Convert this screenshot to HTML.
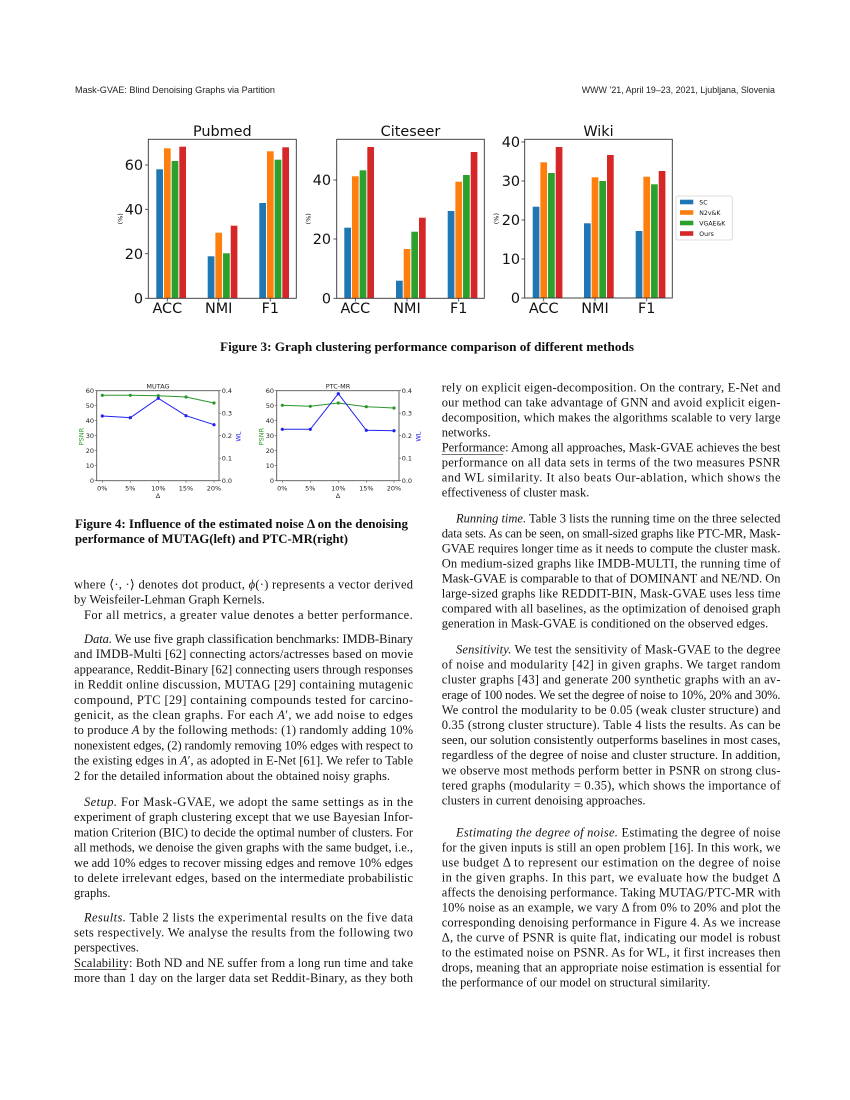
<!DOCTYPE html>
<html><head><meta charset="utf-8">
<style>
body{margin:0;background:#fff}
svg{display:block}
.b{font-family:"Liberation Serif","DejaVu Serif",serif;font-size:12.5px;fill:#141414}
.cap{font-family:"Liberation Serif","DejaVu Serif",serif;font-weight:bold;fill:#111}
.hd{font-family:"Liberation Sans","DejaVu Sans",sans-serif;font-size:9.5px;fill:#222}
.m{font-family:"DejaVu Sans","Liberation Sans",sans-serif;fill:#111}
.s{font-family:"DejaVu Sans","Liberation Sans",sans-serif;font-size:6.5px;fill:#222}
</style></head><body>
<svg width="850" height="1100" viewBox="0 0 850 1100" xmlns="http://www.w3.org/2000/svg">
<rect width="850" height="1100" fill="#fff"/>

<!-- header -->
<text class="hd" x="75" y="93" textLength="200" lengthAdjust="spacingAndGlyphs">Mask-GVAE: Blind Denoising Graphs via Partition</text>
<text class="hd" x="581.7" y="93" textLength="193.3" lengthAdjust="spacingAndGlyphs">WWW ’21, April 19–23, 2021, Ljubljana, Slovenia</text>

<!-- ===== Pubmed ===== -->
<g>
<rect x="156.3" y="169.3" width="6.7" height="129" fill="#1f77b4"/>
<rect x="163.97" y="148.3" width="6.7" height="150" fill="#ff7f0e"/>
<rect x="171.64" y="161" width="6.7" height="137.3" fill="#2ca02c"/>
<rect x="179.31" y="146.7" width="6.7" height="151.6" fill="#d62728"/>
<rect x="207.7" y="256.3" width="6.7" height="42" fill="#1f77b4"/>
<rect x="215.37" y="232.7" width="6.7" height="65.6" fill="#ff7f0e"/>
<rect x="223.04" y="253.3" width="6.7" height="45" fill="#2ca02c"/>
<rect x="230.71" y="225.7" width="6.7" height="72.6" fill="#d62728"/>
<rect x="259.3" y="203" width="6.7" height="95.3" fill="#1f77b4"/>
<rect x="266.97" y="151.3" width="6.7" height="147" fill="#ff7f0e"/>
<rect x="274.64" y="159.7" width="6.7" height="138.6" fill="#2ca02c"/>
<rect x="282.31" y="147.3" width="6.7" height="151" fill="#d62728"/>
<rect x="148.3" y="139.3" width="148" height="159" fill="none" stroke="#333" stroke-width="0.9"/>
<g stroke="#333" stroke-width="0.8">
<line x1="145" y1="298.3" x2="148.3" y2="298.3"/><line x1="145" y1="253.7" x2="148.3" y2="253.7"/>
<line x1="145" y1="209.3" x2="148.3" y2="209.3"/><line x1="145" y1="165" x2="148.3" y2="165"/>
<line x1="167.3" y1="298.3" x2="167.3" y2="301.5"/><line x1="218.7" y1="298.3" x2="218.7" y2="301.5"/><line x1="270.3" y1="298.3" x2="270.3" y2="301.5"/>
</g>
<g class="m" font-size="14.4" text-anchor="end">
<text x="143" y="303.5">0</text><text x="143" y="258.9">20</text><text x="143" y="214.5">40</text><text x="143" y="170.2">60</text>
</g>
<g class="m" font-size="14.4" text-anchor="middle">
<text x="167.3" y="313">ACC</text><text x="218.7" y="313">NMI</text><text x="270.3" y="313">F1</text>
<text x="222.3" y="136">Pubmed</text>
</g>
<text class="m" font-size="6.5" text-anchor="middle" transform="translate(122.4,218.8) rotate(-90)">(%)</text>
</g>

<!-- ===== Citeseer ===== -->
<g>
<rect x="344.3" y="227.7" width="6.7" height="70.6" fill="#1f77b4"/>
<rect x="351.97" y="176.3" width="6.7" height="122" fill="#ff7f0e"/>
<rect x="359.64" y="170.3" width="6.7" height="128" fill="#2ca02c"/>
<rect x="367.31" y="147" width="6.7" height="151.3" fill="#d62728"/>
<rect x="396" y="280.7" width="6.7" height="17.6" fill="#1f77b4"/>
<rect x="403.67" y="249" width="6.7" height="49.3" fill="#ff7f0e"/>
<rect x="411.34" y="231.7" width="6.7" height="66.6" fill="#2ca02c"/>
<rect x="419.01" y="217.7" width="6.7" height="80.6" fill="#d62728"/>
<rect x="447.7" y="211" width="6.7" height="87.3" fill="#1f77b4"/>
<rect x="455.37" y="181.7" width="6.7" height="116.6" fill="#ff7f0e"/>
<rect x="463.04" y="175" width="6.7" height="123.3" fill="#2ca02c"/>
<rect x="470.71" y="152" width="6.7" height="146.3" fill="#d62728"/>
<rect x="336.7" y="139.3" width="147.6" height="159" fill="none" stroke="#333" stroke-width="0.9"/>
<g stroke="#333" stroke-width="0.8">
<line x1="333.4" y1="298.3" x2="336.7" y2="298.3"/><line x1="333.4" y1="239" x2="336.7" y2="239"/><line x1="333.4" y1="180" x2="336.7" y2="180"/>
<line x1="355.3" y1="298.3" x2="355.3" y2="301.5"/><line x1="407" y1="298.3" x2="407" y2="301.5"/><line x1="458.7" y1="298.3" x2="458.7" y2="301.5"/>
</g>
<g class="m" font-size="14.4" text-anchor="end">
<text x="331" y="303.5">0</text><text x="331" y="244.2">20</text><text x="331" y="185.2">40</text>
</g>
<g class="m" font-size="14.4" text-anchor="middle">
<text x="355.3" y="313">ACC</text><text x="407" y="313">NMI</text><text x="458.7" y="313">F1</text>
<text x="410.5" y="136">Citeseer</text>
</g>
<text class="m" font-size="6.5" text-anchor="middle" transform="translate(310.7,218.8) rotate(-90)">(%)</text>
</g>

<!-- ===== Wiki ===== -->
<g>
<rect x="532.7" y="206.7" width="6.7" height="91.3" fill="#1f77b4"/>
<rect x="540.37" y="162.3" width="6.7" height="135.7" fill="#ff7f0e"/>
<rect x="548.04" y="173" width="6.7" height="125" fill="#2ca02c"/>
<rect x="555.71" y="147" width="6.7" height="151" fill="#d62728"/>
<rect x="584" y="223.3" width="6.7" height="74.7" fill="#1f77b4"/>
<rect x="591.67" y="177.3" width="6.7" height="120.7" fill="#ff7f0e"/>
<rect x="599.34" y="181" width="6.7" height="117" fill="#2ca02c"/>
<rect x="607.01" y="155" width="6.7" height="143" fill="#d62728"/>
<rect x="635.7" y="231" width="6.7" height="67" fill="#1f77b4"/>
<rect x="643.37" y="176.7" width="6.7" height="121.3" fill="#ff7f0e"/>
<rect x="651.04" y="184.3" width="6.7" height="113.7" fill="#2ca02c"/>
<rect x="658.71" y="171" width="6.7" height="127" fill="#d62728"/>
<rect x="524.7" y="139.3" width="147.6" height="158.7" fill="none" stroke="#333" stroke-width="0.9"/>
<g stroke="#333" stroke-width="0.8">
<line x1="521.4" y1="298" x2="524.7" y2="298"/><line x1="521.4" y1="259" x2="524.7" y2="259"/><line x1="521.4" y1="220" x2="524.7" y2="220"/>
<line x1="521.4" y1="181" x2="524.7" y2="181"/><line x1="521.4" y1="142" x2="524.7" y2="142"/>
<line x1="543.7" y1="298" x2="543.7" y2="301.3"/><line x1="595" y1="298" x2="595" y2="301.3"/><line x1="646.7" y1="298" x2="646.7" y2="301.3"/>
</g>
<g class="m" font-size="14.4" text-anchor="end">
<text x="520" y="303.2">0</text><text x="520" y="264.2">10</text><text x="520" y="225.2">20</text><text x="520" y="186.2">30</text><text x="520" y="147.2">40</text>
</g>
<g class="m" font-size="14.4" text-anchor="middle">
<text x="543.7" y="313">ACC</text><text x="595" y="313">NMI</text><text x="646.7" y="313">F1</text>
<text x="598.5" y="136">Wiki</text>
</g>
<text class="m" font-size="6.5" text-anchor="middle" transform="translate(498.4,218.6) rotate(-90)">(%)</text>
</g>

<!-- legend -->
<g>
<rect x="676" y="196" width="56.3" height="44" rx="2" fill="#fff" stroke="#d4d4d4" stroke-width="0.8"/>
<rect x="680" y="199.7" width="13.3" height="4.6" fill="#1f77b4"/>
<rect x="680" y="210.2" width="13.3" height="4.6" fill="#ff7f0e"/>
<rect x="680" y="220.7" width="13.3" height="4.6" fill="#2ca02c"/>
<rect x="680" y="231.2" width="13.3" height="4.6" fill="#d62728"/>
<g class="m" font-size="6.2">
<text x="699.3" y="204.3">SC</text>
<text x="699.3" y="214.8">N2v&amp;K</text>
<text x="699.3" y="225.3">VGAE&amp;K</text>
<text x="699.3" y="235.8">Ours</text>
</g>
</g>

<!-- Figure 3 caption -->
<text class="cap" font-size="12.5" x="220" y="351" textLength="414" lengthAdjust="spacingAndGlyphs">Figure 3: Graph clustering performance comparison of different methods</text>

<!-- ===== MUTAG small chart ===== -->
<g>
<rect x="96.7" y="390.7" width="122.3" height="90" fill="none" stroke="#555" stroke-width="0.9"/>
<g stroke="#555" stroke-width="0.6">
<line x1="94.7" y1="480.7" x2="96.7" y2="480.7"/><line x1="94.7" y1="465.7" x2="96.7" y2="465.7"/><line x1="94.7" y1="450.7" x2="96.7" y2="450.7"/>
<line x1="94.7" y1="435.7" x2="96.7" y2="435.7"/><line x1="94.7" y1="420.7" x2="96.7" y2="420.7"/><line x1="94.7" y1="405.7" x2="96.7" y2="405.7"/><line x1="94.7" y1="390.7" x2="96.7" y2="390.7"/>
<line x1="219" y1="480.7" x2="221" y2="480.7"/><line x1="219" y1="458.2" x2="221" y2="458.2"/><line x1="219" y1="435.7" x2="221" y2="435.7"/><line x1="219" y1="413.2" x2="221" y2="413.2"/><line x1="219" y1="390.7" x2="221" y2="390.7"/>
<line x1="102.3" y1="480.7" x2="102.3" y2="482.7"/><line x1="130.3" y1="480.7" x2="130.3" y2="482.7"/><line x1="158.3" y1="480.7" x2="158.3" y2="482.7"/><line x1="186" y1="480.7" x2="186" y2="482.7"/><line x1="214" y1="480.7" x2="214" y2="482.7"/>
</g>
<g class="s" text-anchor="end">
<text x="94" y="483.1">0</text><text x="94" y="468.1">10</text><text x="94" y="453.1">20</text><text x="94" y="438.1">30</text><text x="94" y="423.1">40</text><text x="94" y="408.1">50</text><text x="94" y="393.1">60</text>
</g>
<g class="s">
<text x="221.7" y="483.1">0.0</text><text x="221.7" y="460.6">0.1</text><text x="221.7" y="438.1">0.2</text><text x="221.7" y="415.6">0.3</text><text x="221.7" y="393.1">0.4</text>
</g>
<g class="s" text-anchor="middle">
<text x="102.3" y="490.3">0%</text><text x="130.3" y="490.3">5%</text><text x="158.3" y="490.3">10%</text><text x="186" y="490.3">15%</text><text x="214" y="490.3">20%</text>
<text x="158" y="497.8">Δ</text>
<text x="158" y="388.4">MUTAG</text>
</g>
<text class="s" style="fill:#2a9a2a" text-anchor="middle" transform="translate(83.3,436.6) rotate(-90)">PSNR</text>
<text class="s" style="fill:#2020ee" text-anchor="middle" transform="translate(240.6,436.6) rotate(-90)">WL</text>
<polyline points="102.3,395.3 130.3,395.3 158.3,395.7 186,397 214,403" fill="none" stroke="#2a962a" stroke-width="1"/>
<polyline points="102.3,416 130.3,417.7 158.3,398.3 186,415.7 214,424.7" fill="none" stroke="#2020f0" stroke-width="1"/>
<g fill="#2a962a"><circle cx="102.3" cy="395.3" r="1.6"/><circle cx="130.3" cy="395.3" r="1.6"/><circle cx="158.3" cy="395.7" r="1.6"/><circle cx="186" cy="397" r="1.6"/><circle cx="214" cy="403" r="1.6"/></g>
<g fill="#2020f0"><circle cx="102.3" cy="416" r="1.6"/><circle cx="130.3" cy="417.7" r="1.6"/><circle cx="158.3" cy="398.3" r="1.6"/><circle cx="186" cy="415.7" r="1.6"/><circle cx="214" cy="424.7" r="1.6"/></g>
</g>

<!-- ===== PTC-MR small chart ===== -->
<g>
<rect x="276.7" y="390.7" width="122.3" height="90" fill="none" stroke="#555" stroke-width="0.9"/>
<g stroke="#555" stroke-width="0.6">
<line x1="274.7" y1="480.7" x2="276.7" y2="480.7"/><line x1="274.7" y1="465.7" x2="276.7" y2="465.7"/><line x1="274.7" y1="450.7" x2="276.7" y2="450.7"/>
<line x1="274.7" y1="435.7" x2="276.7" y2="435.7"/><line x1="274.7" y1="420.7" x2="276.7" y2="420.7"/><line x1="274.7" y1="405.7" x2="276.7" y2="405.7"/><line x1="274.7" y1="390.7" x2="276.7" y2="390.7"/>
<line x1="399" y1="480.7" x2="401" y2="480.7"/><line x1="399" y1="458.2" x2="401" y2="458.2"/><line x1="399" y1="435.7" x2="401" y2="435.7"/><line x1="399" y1="413.2" x2="401" y2="413.2"/><line x1="399" y1="390.7" x2="401" y2="390.7"/>
<line x1="282.3" y1="480.7" x2="282.3" y2="482.7"/><line x1="310.3" y1="480.7" x2="310.3" y2="482.7"/><line x1="338.3" y1="480.7" x2="338.3" y2="482.7"/><line x1="366.3" y1="480.7" x2="366.3" y2="482.7"/><line x1="394" y1="480.7" x2="394" y2="482.7"/>
</g>
<g class="s" text-anchor="end">
<text x="274" y="483.1">0</text><text x="274" y="468.1">10</text><text x="274" y="453.1">20</text><text x="274" y="438.1">30</text><text x="274" y="423.1">40</text><text x="274" y="408.1">50</text><text x="274" y="393.1">60</text>
</g>
<g class="s">
<text x="401.7" y="483.1">0.0</text><text x="401.7" y="460.6">0.1</text><text x="401.7" y="438.1">0.2</text><text x="401.7" y="415.6">0.3</text><text x="401.7" y="393.1">0.4</text>
</g>
<g class="s" text-anchor="middle">
<text x="282.3" y="490.3">0%</text><text x="310.3" y="490.3">5%</text><text x="338.3" y="490.3">10%</text><text x="366.3" y="490.3">15%</text><text x="394" y="490.3">20%</text>
<text x="338" y="497.8">Δ</text>
<text x="338" y="388.4">PTC-MR</text>
</g>
<text class="s" style="fill:#2a9a2a" text-anchor="middle" transform="translate(263.3,436.6) rotate(-90)">PSNR</text>
<text class="s" style="fill:#2020ee" text-anchor="middle" transform="translate(420.6,436.6) rotate(-90)">WL</text>
<polyline points="282.3,405.3 310.3,406.3 338.3,403 366.3,406.7 394,408" fill="none" stroke="#2a962a" stroke-width="1"/>
<polyline points="282.3,429.3 310.3,429.3 338.3,393.7 366.3,430.3 394,430.7" fill="none" stroke="#2020f0" stroke-width="1"/>
<g fill="#2a962a"><circle cx="282.3" cy="405.3" r="1.6"/><circle cx="310.3" cy="406.3" r="1.6"/><circle cx="338.3" cy="403" r="1.6"/><circle cx="366.3" cy="406.7" r="1.6"/><circle cx="394" cy="408" r="1.6"/></g>
<g fill="#2020f0"><circle cx="282.3" cy="429.3" r="1.6"/><circle cx="310.3" cy="429.3" r="1.6"/><circle cx="338.3" cy="393.7" r="1.6"/><circle cx="366.3" cy="430.3" r="1.6"/><circle cx="394" cy="430.7" r="1.6"/></g>
</g>

<!-- Figure 4 caption -->
<text class="cap" font-size="13" x="75" y="528" textLength="333" lengthAdjust="spacingAndGlyphs">Figure 4: Influence of the estimated noise Δ on the denoising</text>
<text class="cap" font-size="13" x="75" y="543" textLength="273" lengthAdjust="spacingAndGlyphs">performance of MUTAG(left) and PTC-MR(right)</text>

<!-- ===== Left column text ===== -->
<text class="b" x="74" y="588.5" textLength="339" lengthAdjust="spacing">where ⟨·, ·⟩ denotes dot product, <tspan font-style="italic">ϕ</tspan>(·) represents a vector derived</text>
<text class="b" x="74" y="603.7">by Weisfeiler-Lehman Graph Kernels.</text>
<text class="b" x="84" y="618.9" textLength="328.7" lengthAdjust="spacing">For all metrics, a greater value denotes a better performance.</text>

<text class="b" x="84" y="643" textLength="329" lengthAdjust="spacing"><tspan font-style="italic">Data.</tspan> We use five graph classification benchmarks: IMDB-Binary</text>
<text class="b" x="74" y="658.2" textLength="339" lengthAdjust="spacing">and IMDB-Multi [62] connecting actors/actresses based on movie</text>
<text class="b" x="74" y="673.4" textLength="339" lengthAdjust="spacing">appearance, Reddit-Binary [62] connecting users through responses</text>
<text class="b" x="74" y="688.6" textLength="339" lengthAdjust="spacing">in Reddit online discussion, MUTAG [29] containing mutagenic</text>
<text class="b" x="74" y="703.8" textLength="339" lengthAdjust="spacing">compound, PTC [29] containing compounds tested for carcino-</text>
<text class="b" x="74" y="719" textLength="339" lengthAdjust="spacing">genicit, as the clean graphs. For each <tspan font-style="italic">A</tspan>′, we add noise to edges</text>
<text class="b" x="74" y="734.2" textLength="339" lengthAdjust="spacing">to produce <tspan font-style="italic">A</tspan> by the following methods: (1) randomly adding 10%</text>
<text class="b" x="74" y="749.4" textLength="339" lengthAdjust="spacing">nonexistent edges, (2) randomly removing 10% edges with respect to</text>
<text class="b" x="74" y="764.6" textLength="339" lengthAdjust="spacing">the existing edges in <tspan font-style="italic">A</tspan>′, as adopted in E-Net [61]. We refer to Table</text>
<text class="b" x="74" y="779.8" textLength="316" lengthAdjust="spacing">2 for the detailed information about the obtained noisy graphs.</text>

<text class="b" x="84" y="806" textLength="329" lengthAdjust="spacing"><tspan font-style="italic">Setup.</tspan> For Mask-GVAE, we adopt the same settings as in the</text>
<text class="b" x="74" y="821.2" textLength="339" lengthAdjust="spacing">experiment of graph clustering except that we use Bayesian Infor-</text>
<text class="b" x="74" y="836.4" textLength="339" lengthAdjust="spacing">mation Criterion (BIC) to decide the optimal number of clusters. For</text>
<text class="b" x="74" y="851.6" textLength="339" lengthAdjust="spacing">all methods, we denoise the given graphs with the same budget, i.e.,</text>
<text class="b" x="74" y="866.8" textLength="339" lengthAdjust="spacing">we add 10% edges to recover missing edges and remove 10% edges</text>
<text class="b" x="74" y="882" textLength="339" lengthAdjust="spacing">to delete irrelevant edges, based on the intermediate probabilistic</text>
<text class="b" x="74" y="897.2">graphs.</text>

<text class="b" x="84" y="921.3" textLength="329" lengthAdjust="spacing"><tspan font-style="italic">Results.</tspan> Table 2 lists the experimental results on the five data</text>
<text class="b" x="74" y="936.5" textLength="339" lengthAdjust="spacing">sets respectively. We analyse the results from the following two</text>
<text class="b" x="74" y="951.7">perspectives.</text>
<text class="b" x="74" y="966.9" textLength="339" lengthAdjust="spacing">Scalability: Both ND and NE suffer from a long run time and take</text>
<line x1="74" y1="969.6" x2="126.7" y2="969.6" stroke="#222" stroke-width="0.7"/>
<text class="b" x="74" y="982.1" textLength="339" lengthAdjust="spacing">more than 1 day on the larger data set Reddit-Binary, as they both</text>

<!-- ===== Right column text ===== -->
<text class="b" x="441.7" y="391.7" textLength="338.8" lengthAdjust="spacing">rely on explicit eigen-decomposition. On the contrary, E-Net and</text>
<text class="b" x="441.7" y="406.7" textLength="338.8" lengthAdjust="spacing">our method can take advantage of GNN and avoid explicit eigen-</text>
<text class="b" x="441.7" y="421.7" textLength="338.8" lengthAdjust="spacing">decomposition, which makes the algorithms scalable to very large</text>
<text class="b" x="441.7" y="436.7">networks.</text>
<text class="b" x="441.7" y="451.7" textLength="338.8" lengthAdjust="spacing">Performance: Among all approaches, Mask-GVAE achieves the best</text>
<line x1="441.7" y1="454.3" x2="503.3" y2="454.3" stroke="#222" stroke-width="0.7"/>
<text class="b" x="441.7" y="466.7" textLength="338.8" lengthAdjust="spacing">performance on all data sets in terms of the two measures PSNR</text>
<text class="b" x="441.7" y="481.7" textLength="338.8" lengthAdjust="spacing">and WL similarity. It also beats Our-ablation, which shows the</text>
<text class="b" x="441.7" y="496.7">effectiveness of cluster mask.</text>

<text class="b" x="456" y="522.3" textLength="324.5" lengthAdjust="spacing"><tspan font-style="italic">Running time.</tspan> Table 3 lists the running time on the three selected</text>
<text class="b" x="441.7" y="537.3" textLength="338.8" lengthAdjust="spacing">data sets. As can be seen, on small-sized graphs like PTC-MR, Mask-</text>
<text class="b" x="441.7" y="552.3" textLength="338.8" lengthAdjust="spacing">GVAE requires longer time as it needs to compute the cluster mask.</text>
<text class="b" x="441.7" y="567.3" textLength="338.8" lengthAdjust="spacing">On medium-sized graphs like IMDB-MULTI, the running time of</text>
<text class="b" x="441.7" y="582.3" textLength="338.8" lengthAdjust="spacing">Mask-GVAE is comparable to that of DOMINANT and NE/ND. On</text>
<text class="b" x="441.7" y="597.3" textLength="338.8" lengthAdjust="spacing">large-sized graphs like REDDIT-BIN, Mask-GVAE uses less time</text>
<text class="b" x="441.7" y="612.3" textLength="338.8" lengthAdjust="spacing">compared with all baselines, as the optimization of denoised graph</text>
<text class="b" x="441.7" y="627.5" textLength="326.6" lengthAdjust="spacing">generation in Mask-GVAE is conditioned on the observed edges.</text>

<text class="b" x="456" y="653.5" textLength="324.5" lengthAdjust="spacing"><tspan font-style="italic">Sensitivity.</tspan> We test the sensitivity of Mask-GVAE to the degree</text>
<text class="b" x="441.7" y="668.6" textLength="338.8" lengthAdjust="spacing">of noise and modularity [42] in given graphs. We target random</text>
<text class="b" x="441.7" y="683.7" textLength="338.8" lengthAdjust="spacing">cluster graphs [43] and generate 200 synthetic graphs with an av-</text>
<text class="b" x="441.7" y="698.8" textLength="338.8" lengthAdjust="spacing">erage of 100 nodes. We set the degree of noise to 10%, 20% and 30%.</text>
<text class="b" x="441.7" y="713.9" textLength="338.8" lengthAdjust="spacing">We control the modularity to be 0.05 (weak cluster structure) and</text>
<text class="b" x="441.7" y="729" textLength="338.8" lengthAdjust="spacing">0.35 (strong cluster structure). Table 4 lists the results. As can be</text>
<text class="b" x="441.7" y="744.1" textLength="338.8" lengthAdjust="spacing">seen, our solution consistently outperforms baselines in most cases,</text>
<text class="b" x="441.7" y="759.2" textLength="338.8" lengthAdjust="spacing">regardless of the degree of noise and cluster structure. In addition,</text>
<text class="b" x="441.7" y="774.3" textLength="338.8" lengthAdjust="spacing">we observe most methods perform better in PSNR on strong clus-</text>
<text class="b" x="441.7" y="789.4" textLength="338.8" lengthAdjust="spacing">tered graphs (modularity = 0.35), which shows the importance of</text>
<text class="b" x="441.7" y="804.5">clusters in current denoising approaches.</text>

<text class="b" x="456" y="836.7" textLength="324.5" lengthAdjust="spacing"><tspan font-style="italic">Estimating the degree of noise.</tspan> Estimating the degree of noise</text>
<text class="b" x="441.7" y="851.7" textLength="338.8" lengthAdjust="spacing">for the given inputs is still an open problem [16]. In this work, we</text>
<text class="b" x="441.7" y="866.7" textLength="338.8" lengthAdjust="spacing">use budget Δ to represent our estimation on the degree of noise</text>
<text class="b" x="441.7" y="881.7" textLength="338.8" lengthAdjust="spacing">in the given graphs. In this part, we evaluate how the budget Δ</text>
<text class="b" x="441.7" y="896.7" textLength="338.8" lengthAdjust="spacing">affects the denoising performance. Taking MUTAG/PTC-MR with</text>
<text class="b" x="441.7" y="911.7" textLength="338.8" lengthAdjust="spacing">10% noise as an example, we vary Δ from 0% to 20% and plot the</text>
<text class="b" x="441.7" y="926.7" textLength="338.8" lengthAdjust="spacing">corresponding denoising performance in Figure 4. As we increase</text>
<text class="b" x="441.7" y="941.7" textLength="338.8" lengthAdjust="spacing">Δ, the curve of PSNR is quite flat, indicating our model is robust</text>
<text class="b" x="441.7" y="956.7" textLength="338.8" lengthAdjust="spacing">to the estimated noise on PSNR. As for WL, it first increases then</text>
<text class="b" x="441.7" y="971.7" textLength="338.8" lengthAdjust="spacing">drops, meaning that an appropriate noise estimation is essential for</text>
<text class="b" x="441.7" y="986.7">the performance of our model on structural similarity.</text>
</svg>
</body></html>
